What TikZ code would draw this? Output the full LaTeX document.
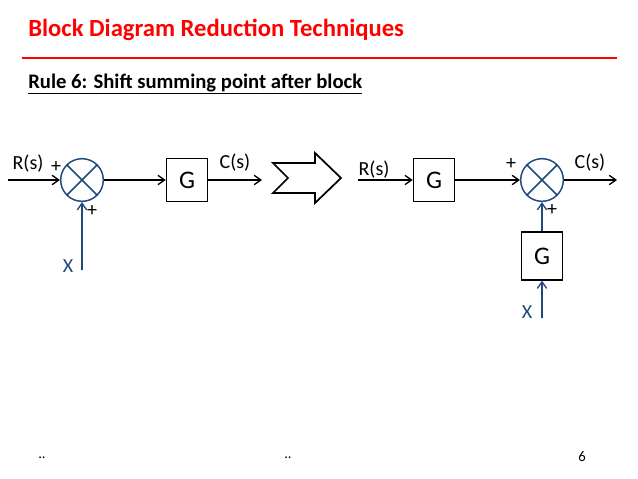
\documentclass[tikz,border=0pt]{standalone}
\usepackage{fontspec}
\setmainfont{Carlito}
\usetikzlibrary{arrows.meta}
\definecolor{dblue}{RGB}{31,73,125}
\begin{document}
\begin{tikzpicture}[x=0.75pt,y=-0.75pt,
  blk/.style={draw,line width=0.9pt,minimum width=31pt,minimum height=32pt,font=\fontsize{19}{19}\selectfont,inner sep=0pt},
  sum/.style={draw=dblue,line width=1.1pt,circle,minimum size=32pt,inner sep=0pt},
  sig/.style={line width=1pt,-{Straight Barb[length=5pt,width=7pt]}},
  bsig/.style={sig,draw=dblue},
  lbl/.style={font=\fontsize{15}{15}\selectfont,inner sep=0pt},
  blbl/.style={lbl,text=dblue}]
\useasboundingbox (0,0) rectangle (638,478);
\node[anchor=west,text=red,font=\fontsize{18.5}{18.5}\selectfont\bfseries,inner sep=0pt] (title) at (28,30) {Block Diagram Reduction Techniques};
\draw[red,line width=2pt] (22,58) -- (617,58);
\node[anchor=west,font=\fontsize{15.5}{15.5}\selectfont\bfseries,inner sep=0pt] (rule) at (28,84) {\underline{Rule 6: Shift summing point after block}};
% left
\node[sum] (s1) at (82,180) {};
\draw[dblue,line width=1.1pt] (s1.north east)--(s1.south west) (s1.north west)--(s1.south east);
\coordinate (in1) at (8,180);
\draw[sig] (in1) -- (s1.west);
\node[lbl] (r1) at (28,164) {R(s)};
\node[lbl] (p1) at (56,167) {+};
\node[lbl] (p2) at (92,211) {+};
\coordinate (x1) at (82,270);
\draw[bsig] (x1) -- (s1.south);
\node[blbl] (xl1) at (68,266) {X};
\node[blk] (g1) at (187,180) {G};
\draw[sig] (s1.east) -- (g1.west);
\coordinate (o1) at (262,180);
\draw[sig] (g1.east) -- (o1);
\node[lbl] (c1) at (235,163) {C(s)};
% big arrow
\draw[line width=1.3pt] (273,163)--(315,163)--(315,153)--(341,178)--(315,203)--(315,193)--(273,193)--(288,178)--cycle;
% right
\coordinate (in2) at (358,180);
\node[blk] (g2) at (434,180) {G};
\draw[sig] (in2) -- (g2.west);
\node[lbl] (r2) at (374,170) {R(s)};
\node[sum] (s2) at (542,180) {};
\draw[dblue,line width=1.1pt] (s2.north east)--(s2.south west) (s2.north west)--(s2.south east);
\draw[sig] (g2.east) -- (s2.west);
\node[lbl] (p3) at (511,164) {+};
\coordinate (o2) at (617,180);
\draw[sig] (s2.east) -- (o2);
\node[lbl] (c2) at (590,163) {C(s)};
\node[blk,minimum height=36pt] (g3) at (542,256) {G};
\draw[bsig] (g3.north) -- (s2.south);
\node[lbl] (p4) at (552,210) {+};
\coordinate (x2) at (542,318);
\draw[bsig] (x2) -- (g3.south);
\node[blbl] (xl2) at (527,312) {X};
% footer
\node[font=\fontsize{11}{11}\selectfont,inner sep=0pt] (f1) at (42,458) {..};
\node[font=\fontsize{11}{11}\selectfont,inner sep=0pt] (f2) at (288,458) {..};
\node[font=\fontsize{11}{11}\selectfont,inner sep=0pt] (f3) at (582,457) {6};
\end{tikzpicture}
\end{document}
